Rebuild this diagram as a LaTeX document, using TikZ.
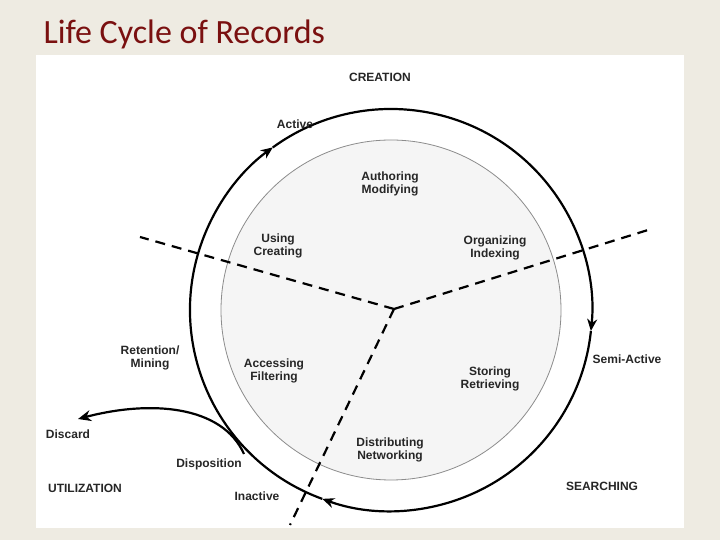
\documentclass[tikz,border=0pt]{standalone}
\usepackage{fontspec}
\setmainfont{Liberation Sans}
\newfontfamily\titlefont{Carlito}
\usetikzlibrary{arrows.meta}
\definecolor{bg}{HTML}{EEEBE2}
\definecolor{titlered}{HTML}{7A1010}
\tikzset{lbl/.style={font=\bfseries\fontsize{12}{13.5}\selectfont,align=center,text=black!85,inner sep=1pt},
 ring/.style={line width=2.2pt,-{Stealth[length=12pt,width=10pt]}},
 sep/.style={line width=2.2pt,dash pattern=on 10pt off 7pt}}
\begin{document}
\begin{tikzpicture}[x=1pt,y=1pt]
\fill[bg] (0,0) rectangle (720,540);
\fill[white] (36,12) rectangle (684,485);
\useasboundingbox (0,0) rectangle (720,540);
\node[anchor=west,text=titlered,font=\titlefont\fontsize{34}{36}\selectfont] (title) at (40,506) {Life Cycle of Records};
\coordinate (c) at (391,230);
\filldraw[fill=black!4,draw=black!45,line width=0.8pt] (c) circle (170);
\draw[ring] ([shift={(250:201)}]c) arc (250:126:201);
\draw[ring] ([shift={(126:201)}]c) arc (126:-6:201);
\draw[ring] ([shift={(-6:201)}]c) arc (-6:-110:201);
\coordinate (m) at (394,231);
\coordinate (d1) at (140,303);
\coordinate (d2) at (648,310);
\coordinate (d3) at (290,15);
\draw[sep] (m) -- (d1);
\draw[sep] (m) -- (d2);
\draw[sep] (m) -- (d3);
\coordinate (ds) at (244,86);
\coordinate (de) at (78,121);
\draw[line width=2.2pt,-{Stealth[length=13pt,width=11pt]}] (ds) .. controls (222,135) and (150,140) .. (de);
\node[lbl] (creation) at (380,463) {CREATION};
\node[lbl] (active) at (295,416) {Active};
\node[lbl] (author) at (390,356) {Authoring\\Modifying};
\node[lbl] (using) at (278,294) {Using\\Creating};
\node[lbl] (organ) at (495,292) {Organizing\\Indexing};
\node[lbl] (semi) at (627,181) {Semi-Active};
\node[lbl] (reten) at (150,182) {Retention/\\Mining};
\node[lbl] (access) at (274,169) {Accessing\\Filtering};
\node[lbl] (storing) at (490,161) {Storing\\Retrieving};
\node[lbl] (discard) at (68,106) {Discard};
\node[lbl] (dispo) at (209,76) {Disposition};
\node[lbl] (distrib) at (390,90) {Distributing\\Networking};
\node[lbl] (util) at (85,52) {UTILIZATION};
\node[lbl] (inact) at (257,44) {Inactive};
\node[lbl] (search) at (602,54) {SEARCHING};
\end{tikzpicture}
\end{document}
